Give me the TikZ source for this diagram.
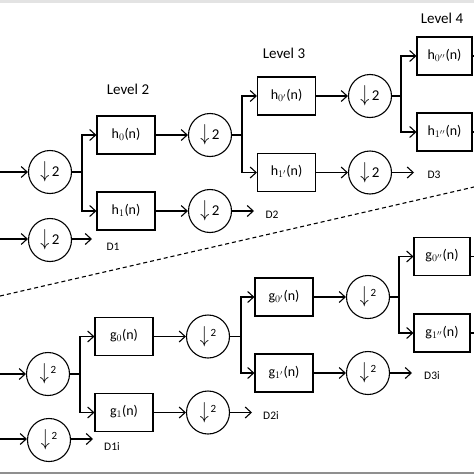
\documentclass[tikz,border=0pt]{standalone}
\usepackage{fontspec}
\setmainfont{Carlito}
\usetikzlibrary{arrows.meta}
\newcommand\bigdn{\raisebox{-1pt}{\scalebox{1.25}[1.6]{$\downarrow$}}}
\newcommand\dnA{\bigdn\,2}
\newcommand\dnB{\bigdn\raisebox{5pt}{\fontsize{11}{11}\selectfont\,2}}
\begin{document}
\begin{tikzpicture}[x=1pt,y=-1pt,
 line width=1.1pt,
 arr/.style={-{Straight Barb[length=6pt,width=11pt,line width=1.1pt]}},
 filt/.style={draw, minimum width=58pt, minimum height=38pt, inner sep=0pt, font=\fontsize{14}{14}\selectfont},
 ds/.style={draw, circle, minimum size=43pt, inner sep=0pt, font=\fontsize{15}{15}\selectfont},
 lvl/.style={font=\fontsize{15}{15}\selectfont},
 dlab/.style={font=\fontsize{11.5}{11.5}\selectfont},
 sep/.style={dashed, dash pattern=on 4pt off 3pt},
 strip/.style={draw=none}
]
\useasboundingbox (0,0) rectangle (474,474);
\fill[strip, fill=black!11] (0,0) rectangle (474,2.5);
\fill[strip, fill=black!44] (0,471.5) rectangle (474,474);

% ---------- top half ----------
\node[lvl] (L2) at (128,89) {Level 2};
\node[lvl] (L3) at (284,53) {Level 3};
\node[lvl] (L4) at (442,18) {Level 4};

\coordinate (in1) at (0,172);
\node[ds] (c1) at (50,172) {\dnA};
\coordinate (j1) at (82,172);
\node[filt] (h0) at (126,135) {\raisebox{4pt}{h$_0$(n)}};
\node[filt] (h1) at (126,211) {\raisebox{4pt}{h$_1$(n)}};
\node[ds] (c2a) at (210,135) {\dnA};
\node[ds] (c2b) at (210,211) {\dnA};
\coordinate (d2e) at (254,211);
\node[dlab] (D2) at (272,215) {D2};
\coordinate (j2) at (242,135);
\node[filt] (h0p) at (286.5,96) {\raisebox{4pt}{h$_{0'}$(n)}};
\node[filt] (h1p) at (286.5,172.5) {\raisebox{4pt}{h$_{1'}$(n)}};
\node[ds] (c3a) at (370,96) {\dnA};
\node[ds] (c3b) at (370,172.5) {\dnA};
\coordinate (d3e) at (414,172.5);
\node[dlab] (D3) at (434,175) {D3};
\coordinate (j3) at (401,96);
\node[filt, minimum width=55pt] (h0pp) at (444.5,56) {\raisebox{4pt}{h$_{0''}$(n)}};
\node[filt, minimum width=55pt] (h1pp) at (444.5,132) {\raisebox{4pt}{h$_{1''}$(n)}};
\coordinate (o4a) at (476,56);
\coordinate (o4b) at (476,132);

\coordinate (in1d) at (0,239);
\node[ds] (c1d) at (50,240) {\dnA};
\coordinate (d1e) at (92,239);
\node[dlab] (D1) at (113,247) {D1};

\draw[arr] (in1) -- (c1);
\draw (c1) -- (j1);
\draw[arr] (j1) |- (h0.west);
\draw[arr] (j1) |- (h1.west);
\draw[arr] (h0) -- (c2a);
\draw[arr] (h1) -- (c2b);
\draw[arr] (c2b) -- (d2e);
\draw (c2a) -- (j2);
\draw[arr] (j2) |- (h0p.west);
\draw[arr] (j2) |- (h1p.west);
\draw[arr] (h0p) -- (c3a);
\draw[arr] (h1p) -- (c3b);
\draw[arr] (c3b) -- (d3e);
\draw (c3a) -- (j3);
\draw[arr] (j3) |- (h0pp.west);
\draw[arr] (j3) |- (h1pp.west);
\draw (h0pp.east) -- (o4a);
\draw (h1pp.east) -- (o4b);
\draw[arr] (in1d) -- (in1d -| c1d.west);
\draw[arr] (c1d.east |- d1e) -- (d1e);

% ---------- separator ----------
\coordinate (s1) at (0,296);
\coordinate (s2) at (474,187);
\draw[sep] (s1) -- (s2);

% ---------- bottom half ----------
\coordinate (in2) at (0,374);
\node[ds] (e1) at (48,374) {\dnB};
\coordinate (k1) at (80,374);
\node[filt] (g0) at (124,336.5) {\raisebox{4pt}{g$_0$(n)}};
\node[filt] (g1) at (124,412.5) {\raisebox{4pt}{g$_1$(n)}};
\node[ds] (e2a) at (208,336.5) {\dnB};
\node[ds] (e2b) at (208,412.5) {\dnB};
\coordinate (d2ie) at (252,412.5);
\node[dlab] (D2i) at (271,416) {D2i};
\coordinate (k2) at (241,336.5);
\node[filt] (g0p) at (284,297) {\raisebox{4pt}{g$_{0'}$(n)}};
\node[filt] (g1p) at (284,373) {\raisebox{4pt}{g$_{1'}$(n)}};
\node[ds] (e3a) at (368,297) {\dnB};
\node[ds] (e3b) at (368,373) {\dnB};
\coordinate (d3ie) at (412,373);
\node[dlab] (D3i) at (432,376) {D3i};
\coordinate (k3) at (399,297);
\node[filt, minimum width=56pt] (g0pp) at (442,256.5) {\raisebox{4pt}{g$_{0''}$(n)}};
\node[filt, minimum width=56pt] (g1pp) at (442,333) {\raisebox{4pt}{g$_{1''}$(n)}};
\coordinate (p4a) at (476,256.5);
\coordinate (p4b) at (476,333);

\coordinate (in2d) at (0,439);
\node[ds] (e1d) at (49,440) {\dnB};
\coordinate (d1ie) at (93,439);
\node[dlab] (D1i) at (112,447) {D1i};

\draw[arr] (in2) -- (e1);
\draw (e1) -- (k1);
\draw[arr] (k1) |- (g0.west);
\draw[arr] (k1) |- (g1.west);
\draw[arr] (g0) -- (e2a);
\draw[arr] (g1) -- (e2b);
\draw[arr] (e2b) -- (d2ie);
\draw (e2a) -- (k2);
\draw[arr] (k2) |- (g0p.west);
\draw[arr] (k2) |- (g1p.west);
\draw[arr] (g0p) -- (e3a);
\draw[arr] (g1p) -- (e3b);
\draw[arr] (e3b) -- (d3ie);
\draw (e3a) -- (k3);
\draw[arr] (k3) |- (g0pp.west);
\draw[arr] (k3) |- (g1pp.west);
\draw (g0pp.east) -- (p4a);
\draw (g1pp.east) -- (p4b);
\draw[arr] (in2d) -- (in2d -| e1d.west);
\draw[arr] (e1d.east |- d1ie) -- (d1ie);
\end{tikzpicture}
\end{document}
